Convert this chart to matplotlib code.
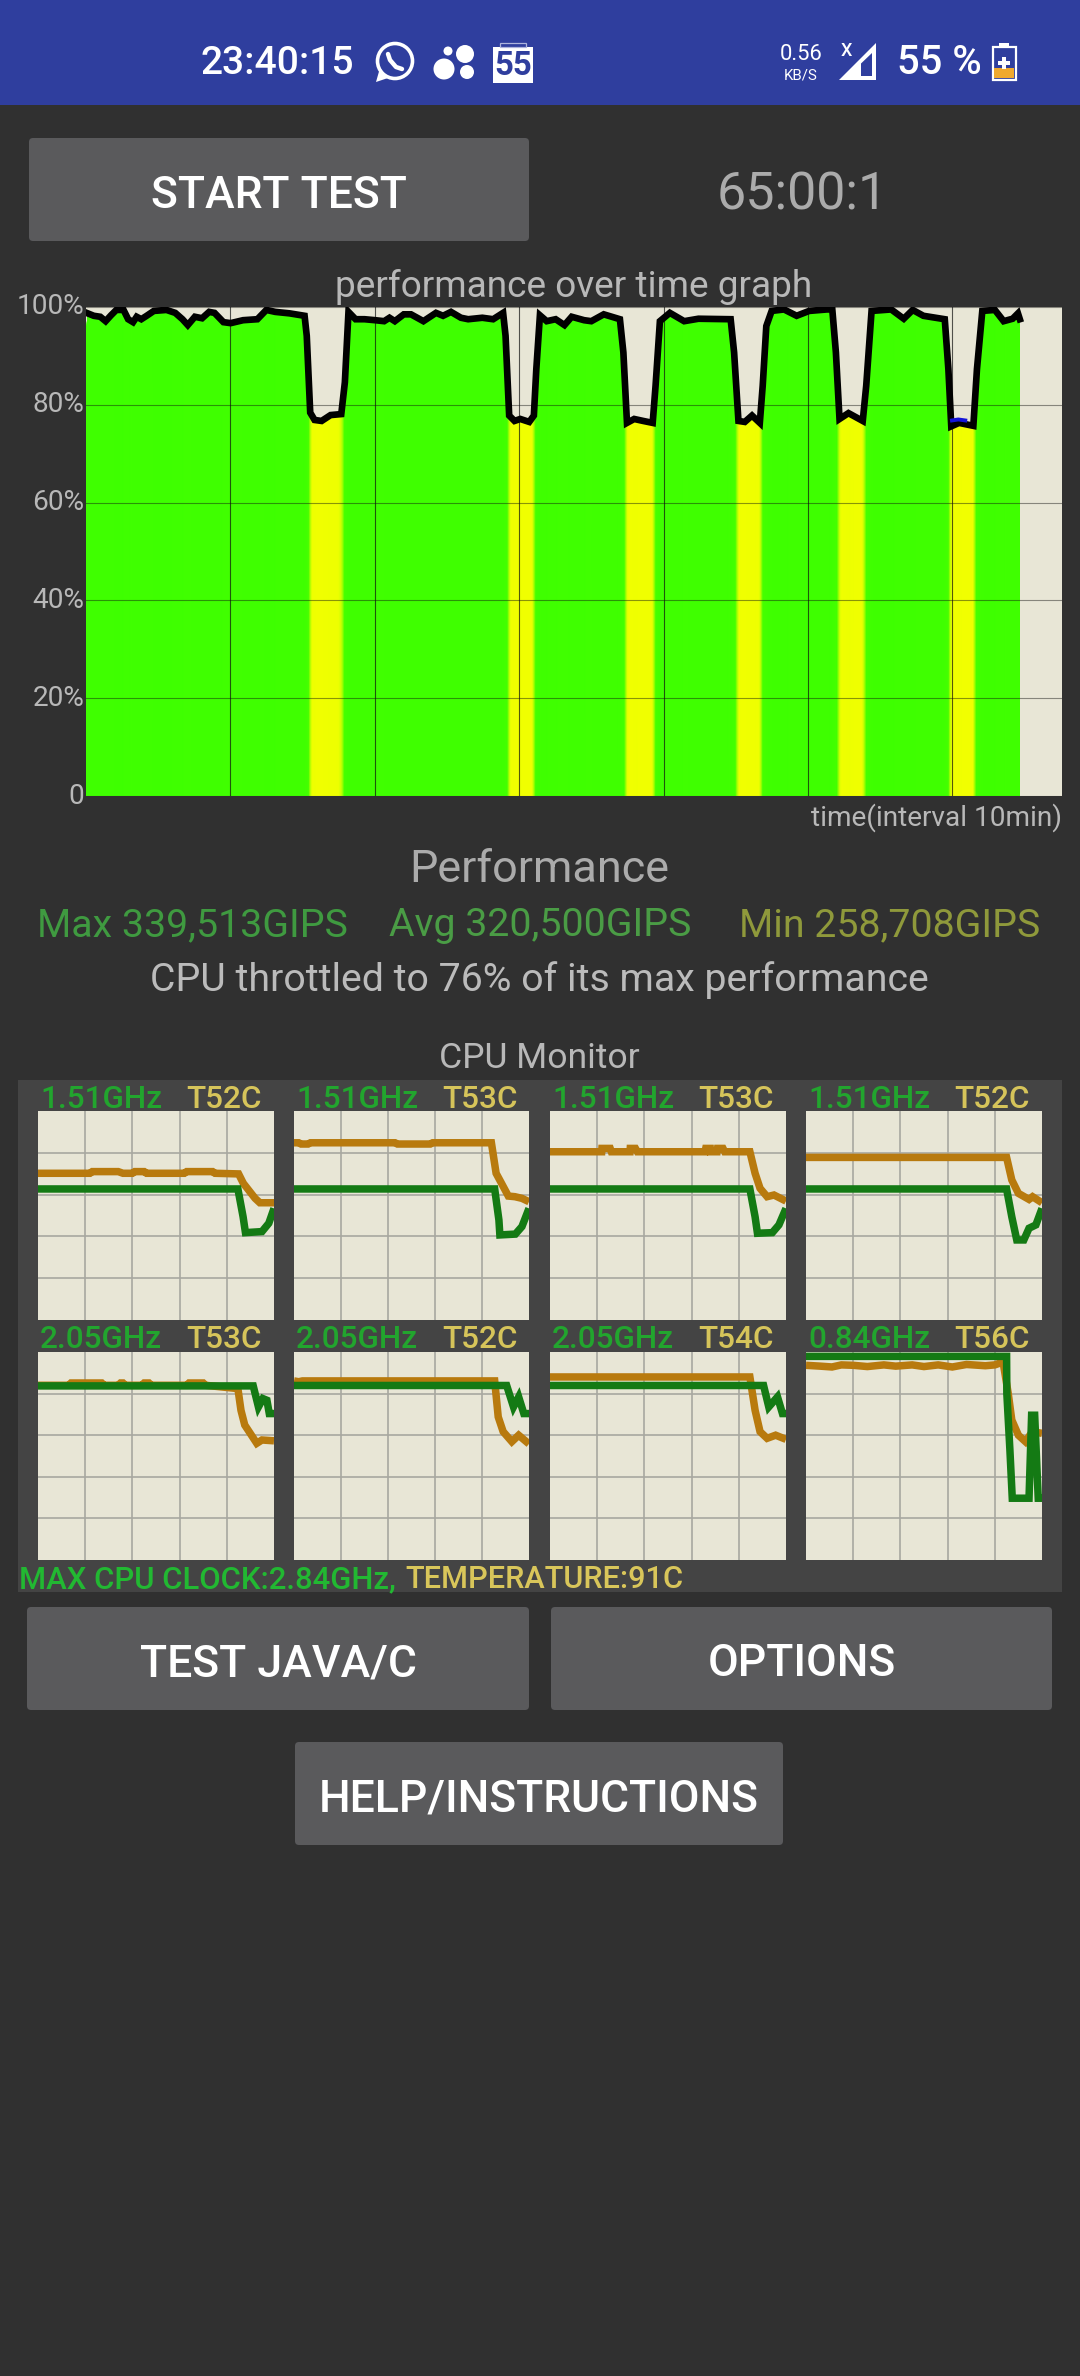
import numpy as np
import matplotlib
matplotlib.use("Agg")
import matplotlib.pyplot as plt
from matplotlib.colors import LinearSegmentedColormap
from matplotlib.patches import Circle, FancyBboxPatch, Polygon, Rectangle

plt.rcParams['font.family'] = ['Roboto', 'DejaVu Sans']

W, H = 1080, 2376

# performance over time, minutes / percent of max
perf_min = [0.0, 0.12, 0.54, 0.99, 1.36, 1.73, 2.10, 2.60, 2.92, 3.26, 3.51, 3.83, 4.20, 4.70, 5.57, 6.18, 6.68,
            7.05, 7.54, 8.04, 8.53, 8.90, 9.52, 10.02, 10.88, 11.87, 12.49, 13.11, 14.10, 15.14, 15.29, 15.53,
            15.83, 16.32, 16.94, 17.68, 17.93, 18.18, 18.67, 19.29, 20.03, 20.65, 21.02, 21.39, 22.01, 22.51,
            23.37, 24.24, 24.73, 25.28, 25.97, 26.47, 27.45, 28.20, 28.89, 29.06, 29.31, 29.68, 30.08, 30.70,
            31.02, 31.19, 31.44, 31.91, 32.53, 33.14, 33.64, 34.50, 35.00, 35.86, 36.98, 37.22, 37.47, 37.97,
            38.59, 39.25, 39.45, 39.75, 40.44, 41.43, 42.42, 44.65, 44.89, 45.19, 45.63, 46.13, 46.67, 46.87,
            47.12, 47.49, 48.35, 49.22, 50.09, 51.32, 51.69, 51.94, 52.19, 52.81, 53.80, 54.04, 54.41, 55.77,
            56.64, 57.26, 58.00, 59.48, 59.73, 59.93, 60.47, 61.46, 61.71, 62.08, 62.95, 63.56, 64.18, 64.55,
            64.68]
perf_pct = [95.5, 98.7, 98.2, 98.0, 97.1, 98.3, 99.4, 99.4, 97.5, 96.9, 98.0, 97.5, 98.2, 99.2, 99.4, 98.8, 97.5,
            96.3, 98.0, 97.7, 99.0, 98.8, 96.9, 96.7, 97.3, 97.5, 99.4, 99.0, 98.7, 98.2, 94.1, 78.4,
            76.9, 76.7, 77.9, 78.1, 84.6, 99.0, 97.5, 97.5, 97.3, 97.1, 97.8, 97.1, 98.5, 98.5,
            97.1, 98.8, 98.2, 99.0, 97.8, 97.5, 97.8, 97.5, 98.8, 94.1, 77.8, 76.7, 77.1, 76.5,
            77.8, 87.3, 98.3, 97.1, 97.5, 96.3, 98.0, 97.3, 97.1, 98.5, 97.5, 90.7, 76.3, 77.1,
            76.7, 76.3, 83.9, 97.1, 98.8, 97.1, 97.6, 97.5, 90.7, 76.7, 76.5, 77.8, 76.3, 83.9,
            96.1, 99.2, 99.5, 98.2, 99.2, 99.5, 99.5, 90.7, 77.1, 78.3, 76.7, 83.9, 99.2, 99.5,
            97.6, 99.4, 98.2, 97.5, 87.3, 75.6, 76.3, 75.7, 87.3, 99.2, 99.4, 97.1, 97.6, 98.7,
            97.5]
blue_min = [59.98, 60.42, 60.90]
blue_pct = [76.8, 77.0, 76.8]
perf_ticks = [0, 20, 40, 60, 80, 100]
perf_ticklabels = ['0', '20%', '40%', '60%', '80%', '100%']
time_ticks = [10, 20, 30, 40, 50, 60]
time_end = 67.6

# cpu monitor, x in percent of the panel, y in percent of the panel
cpu_freq = ['1.51GHz', '1.51GHz', '1.51GHz', '1.51GHz', '2.05GHz', '2.05GHz', '2.05GHz', '0.84GHz']
cpu_temp = ['T52C', 'T53C', 'T53C', 'T52C', 'T53C', 'T52C', 'T54C', 'T56C']

orange_x = [
    [0, 22, 23, 34, 36, 40, 41, 45, 46, 62, 63, 74, 75, 85, 87, 92, 94, 100],
    [0, 2, 3, 6, 7, 13, 14, 43, 44, 58, 59, 79, 84, 86, 88.3, 91.2, 94, 97, 100],
    [0, 21.9, 22, 25.5, 26, 33.9, 34, 36.2, 37, 65.7, 66, 67.9, 68, 70.8, 71, 73.3, 74, 84.7, 86.9, 89, 92, 94.9, 100],
    [0, 85, 87.2, 90, 94.5, 96, 100],
    [0, 13, 14, 27, 28, 34, 35, 36, 37, 44, 45, 47, 48, 63, 64, 70, 71, 84.7, 86, 87.6, 92.7, 94.9, 100],
    [0, 2, 3.6, 85.4, 86.9, 89, 92.7, 95.6, 100],
    [0, 84.7, 86.9, 89, 92, 95.6, 100],
    [0, 6, 11, 15, 20, 26, 33, 38, 45, 50, 56, 62, 68, 76, 80, 83.5, 85.7, 87.2, 90, 93, 95.9, 100],
]
orange_y = [
    [70.2, 70.2, 71, 71, 70.2, 70.2, 71, 71, 70.2, 70.2, 71, 71, 70.2, 69.9, 65.4, 58.2, 56.1, 56.1],
    [84.8, 84.8, 84.2, 84.2, 84.8, 84.8, 84.8, 84.8, 84.2, 84.2, 84.8, 84.8, 84.8, 70.2, 65.4, 59.3, 59, 58.2, 56.6],
    [80.5, 80.5, 82.1, 82.1, 80.5, 80.5, 82.1, 82.1, 80.5, 80.5, 82.1, 82.1, 80.5, 80.5, 82.1, 82.1, 80.5, 80.5, 70.2, 63, 59, 59.8, 56.9],
    [77.8, 77.8, 67, 60.6, 57.7, 59, 56.1],
    [84, 84, 85.1, 85.1, 84, 84, 85.1, 85.1, 84, 84, 85.1, 85.1, 84, 84, 85.1, 85.1, 84, 82.4, 72, 64.9, 56.1, 57.7, 57.3],
    [86.1, 85.7, 86.1, 86.1, 68.8, 61.7, 56.9, 60, 55.8],
    [88, 88, 72, 61.7, 58.5, 60, 58],
    [93.6, 93.2, 92.8, 93.8, 93.6, 93.0, 93.8, 93.2, 93.8, 93.0, 93.8, 92.8, 94.0, 93.4, 93.8, 95.2, 80, 67.3, 60, 56.9, 61.7, 60.9],
]
green_x = [
    [0, 84.7, 86.9, 87.9, 94.9, 97.8, 100],
    [0, 85.4, 87.2, 87.6, 94.2, 97, 100],
    [0, 84.7, 86.9, 87.9, 94.2, 97, 100],
    [0, 85, 87.2, 89.3, 92.3, 94.5, 97.4, 100],
    [0, 91.2, 93.4, 95.3, 97, 98, 100],
    [0, 90.5, 93.4, 95.6, 97.8, 100],
    [0, 90.5, 92.7, 96.4, 98.5, 100],
    [0, 85, 85.1, 86.4, 87.4, 94.5, 95.6, 96.9, 98.4, 100],
]
green_y = [
    [62.7, 62.7, 49.4, 41.8, 42.3, 46.3, 53.4],
    [62.7, 62.7, 47.8, 40.7, 41.1, 44.7, 53.4],
    [62.7, 62.7, 49.4, 41.5, 41.8, 45.5, 53.4],
    [62.7, 62.7, 49.4, 38.3, 38.3, 43.9, 45.5, 53.4],
    [83.7, 83.7, 73.6, 77.6, 76.8, 70.4, 70.4],
    [83.9, 83.9, 73.6, 78.4, 70.4, 70.4],
    [83.9, 83.9, 73.6, 78.4, 70.4, 70.4],
    [97.9, 97.9, 80, 52.9, 29.7, 29.7, 69.6, 69.6, 29.7, 29.7],
]

BG = '#303030'
PANEL = '#444444'
CREAM = '#E8E6D6'
BTN = '#5A5A5C'
BAR = '#2F3E9E'


def px_axes(fig, x0, y0, x1, y1):
    # axes from pixel box, y counted from the top
    return fig.add_axes([x0 / W, 1 - y1 / H, (x1 - x0) / W, (y1 - y0) / H])


def px_font(px):
    return px * 72.0 / 100.0


def label(ax, x, y, s, px, color, ha='center', weight='normal'):
    ax.text(x, y, s, fontsize=px_font(px), color=color, ha=ha, va='center', weight=weight)


def button(ax, x0, y0, x1, y1, s, px=44.5):
    ax.add_patch(FancyBboxPatch((x0 + 4, y0 + 4), x1 - x0 - 8, y1 - y0 - 8, boxstyle='round,pad=4',
                                fc=BTN, ec='none'))
    label(ax, (x0 + x1) / 2, (y0 + y1) / 2 + 6, s, px, 'white', weight='medium')


fig = plt.figure(figsize=(W / 100, H / 100), dpi=100, facecolor=BG)

# full page in pixels for the app chrome
page = fig.add_axes([0, 0, 1, 1])
page.set_xlim(0, W)
page.set_ylim(H, 0)
page.axis('off')

page.add_patch(Rectangle((0, 0), W, 105, fc=BAR, ec='none'))
label(page, 277, 63, '23:40:15', 39, 'white', weight='medium')
label(page, 939, 63, '55 %', 40, 'white', weight='medium')
label(page, 801, 55, '0.56', 22, 'white')
label(page, 801, 75, 'KB/S', 15, 'white')
label(page, 846, 51, 'X', 18, 'white', weight='medium')

# whatsapp icon
page.add_patch(Circle((395, 61), 17.5, fc='none', ec='white', lw=2.6))
page.add_patch(Polygon([[376, 82], [380, 68], [388, 78]], fc='white', ec='none'))
page.plot([388, 390, 396, 402], [54, 60, 67, 69], color='white', lw=3.2, solid_capstyle='round')

# blobs icon
page.add_patch(Circle((465, 54), 9, fc='white', ec='none'))
page.add_patch(Circle((444, 69), 10.5, fc='white', ec='none'))
page.add_patch(Circle((467, 72), 7, fc='white', ec='none'))
page.add_patch(Circle((448, 51), 4.5, fc='white', ec='none'))

# calendar style icon
page.add_patch(Rectangle((493, 47), 40, 36, fc='white', ec='none'))
page.add_patch(Rectangle((500, 43), 26, 4, fc='none', ec='#AEB4DC', lw=0.9))
label(page, 513, 66, '55', 33, BAR, weight='bold')

# signal icon, lower left filled, rest only outlined
page.add_patch(Polygon([[839, 80], [876, 43], [876, 80]], fc='white', ec='none'))
page.add_patch(Polygon([[861, 76], [872, 76], [872, 53], [861, 63.5]], fc=BAR, ec='none'))

# battery icon
page.add_patch(Rectangle((992.5, 47), 23, 33, fc=BAR, ec='white', lw=1.6))
page.add_patch(Rectangle((999, 43), 10, 5, fc='white', ec='none'))
page.add_patch(Rectangle((994, 68), 20, 10, fc='#EFA92F', ec='none'))
page.add_patch(Rectangle((998, 61), 12, 3.5, fc='white', ec='none'))
page.add_patch(Rectangle((1002, 57), 4, 12, fc='white', ec='none'))

button(page, 29, 138, 529, 241, 'START TEST')
label(page, 802, 195, '65:00:1', 52, '#ABABAB')
label(page, 574, 287, 'performance over time graph', 37, '#B8B8B8')

# texts under the graph
label(page, 1062, 818, 'time(interval 10min)', 28, '#B8B8B8', ha='right')
label(page, 539, 870, 'Performance', 45, '#ABABAB')
label(page, 37, 926, 'Max 339,513GIPS', 39.3, '#3F9A40', ha='left')
label(page, 389, 926, 'Avg 320,500GIPS', 39.3, '#4A9C45', ha='left')
label(page, 739, 926, 'Min 258,708GIPS', 39.3, '#8F993B', ha='left')
label(page, 539, 980, 'CPU throttled to 76% of its max performance', 39.3, '#BBBBBB')
label(page, 539, 1058, 'CPU Monitor', 35.5, '#B8B8B8')

page.add_patch(Rectangle((18, 1080), 1044, 512, fc=PANEL, ec='none'))
label(page, 19, 1580, 'MAX CPU CLOCK:2.84GHz,', 31, '#22B832', ha='left', weight='medium')
label(page, 405, 1580, 'TEMPERATURE:91C', 30.8, '#D9C65A', ha='left', weight='medium')

button(page, 27, 1607, 529, 1710, 'TEST JAVA/C')
button(page, 551, 1607, 1052, 1710, 'OPTIONS')
button(page, 295, 1742, 783, 1845, 'HELP/INSTRUCTIONS')

# performance graph
ax = px_axes(fig, 86, 307, 1062, 796)
ax.set_facecolor(CREAM)
ax.set_xlim(0, time_end)
ax.set_ylim(0, 100)
for s in ax.spines.values():
    s.set_visible(False)

heat = LinearSegmentedColormap.from_list('heat', [
    (0.0, '#F2FF00'), (0.12, '#EEFF00'), (0.42, '#46FF00'), (1.0, '#3EFF00')])
# colour fades a little softer than the line moves
shade_x = np.linspace(perf_min[0], perf_min[-1], 1300)
shade_v = np.convolve(np.interp(shade_x, perf_min, perf_pct), np.ones(9) / 9, mode='same')
shade_v[:5] = perf_pct[1]
shade_v[-5:] = perf_pct[-1]
area = ax.fill_between(perf_min, 0, perf_pct, color='none')
mesh = ax.pcolormesh(shade_x, [0, 100], np.array([shade_v, shade_v]), shading='gouraud',
                     cmap=heat, vmin=75, vmax=100, zorder=1)
mesh.set_clip_path(area.get_paths()[0], transform=ax.transData)

ax.set_xticks(time_ticks)
ax.set_yticks(perf_ticks)
ax.set_xticklabels([])
ax.set_yticklabels(perf_ticklabels, fontsize=px_font(28), color='#B8B8B8')
ax.tick_params(length=0, pad=1)
for lab in ax.get_yticklabels():
    lab.set_verticalalignment('center')
ax.grid(True, axis='x', color='#101010', alpha=0.7, lw=0.8)
ax.grid(True, axis='y', color='#101010', alpha=0.45, lw=0.8)
ax.set_axisbelow(False)
for gl in ax.get_xgridlines() + ax.get_ygridlines():
    gl.set_zorder(2)

ax.plot(perf_min[1:], perf_pct[1:], color='black', lw=4.8, zorder=3, solid_joinstyle='miter')
ax.plot(blue_min, blue_pct, color='#1414D8', lw=2.8, zorder=4)

# cpu panels
col_x = [(38, 274), (294, 529), (550, 786), (806, 1042)]
row_y = [(1111, 1320), (1352, 1560)]
for i in range(8):
    x0, x1 = col_x[i % 4]
    y0, y1 = row_y[i // 4]
    a = px_axes(fig, x0, y0, x1, y1)
    a.set_facecolor(CREAM)
    a.set_xlim(0, 100)
    a.set_ylim(0, 100)
    a.set_xticks([20, 40, 60, 80])
    a.set_yticks([20, 40, 60, 80])
    a.set_xticklabels([])
    a.set_yticklabels([])
    a.tick_params(length=0)
    a.grid(True, color='#A8A8A0', lw=1.2)
    a.set_axisbelow(True)
    for s in a.spines.values():
        s.set_visible(False)
    a.plot(orange_x[i], orange_y[i], color='#B87A0E', lw=5.4, solid_joinstyle='miter', solid_capstyle='butt')
    a.plot(green_x[i], green_y[i], color='#147A14', lw=5.4, solid_joinstyle='miter', solid_capstyle='butt')
    ty = y0 - 12 if i < 4 else y0 - 13
    label(page, x0 + 2, ty, cpu_freq[i], 31.5, '#22A52E', ha='left', weight='medium')
    label(page, x0 + 148, ty, cpu_temp[i], 31.5, '#D6C45A', ha='left', weight='medium')

fig.savefig('out.png', dpi=100, facecolor=BG)
